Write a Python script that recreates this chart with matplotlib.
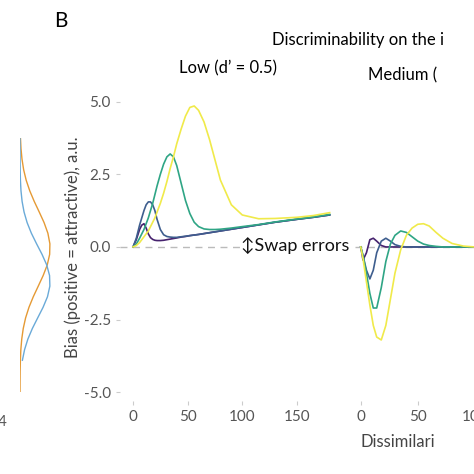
import matplotlib
matplotlib.use("Agg")
import matplotlib.pyplot as plt

plt.rcParams['font.family'] = ['Lato', 'DejaVu Sans']

# Panel "Low (d' = 0.5)": bias curves (x = dissimilarity, y = bias)
low_x = [0, 3, 6, 8, 10, 12, 14, 16, 18, 20, 22, 25, 28, 31, 34, 37, 40, 44, 48, 52, 56, 60,
         65, 70, 75, 80, 90, 100, 115, 130, 150, 165, 180]
low_purple = [0, .25, .6, .75, .8, .65, .45, .32, .26, .23, .22, .22, .23, .25, .27, .29, .31, .34,
              .36, .39, .41, .43, .46, .49, .52, .55, .61, .67, .76, .85, .95, 1.02, 1.1]
low_blue = [0, .3, .75, 1.0, 1.25, 1.45, 1.55, 1.55, 1.45, 1.25, .95, .6, .42, .36, .34, .33, .33,
            .35, .37, .39, .41, .43, .46, .49, .52, .55, .61, .67, .76, .85, .95, 1.02, 1.1]
low_green = [0, .1, .3, .45, .6, .8, 1.0, 1.25, 1.5, 1.8, 2.1, 2.5, 2.85, 3.1, 3.2, 3.1, 2.8, 2.2,
             1.6, 1.15, .85, .7, .62, .6, .6, .61, .65, .7, .77, .86, .96, 1.03, 1.12]
low_yellow = [0, .05, .15, .25, .35, .45, .55, .7, .85, 1.0, 1.2, 1.5, 1.85, 2.25, 2.7, 3.1, 3.55,
              4.05, 4.5, 4.8, 4.85, 4.7, 4.3, 3.7, 3.0, 2.3, 1.45, 1.1, .97, .98, 1.02, 1.08, 1.18]

# Panel "Medium": bias curves
med_x = [0, 2, 5, 8, 11, 14, 18, 22, 26, 30, 35, 40, 45, 50, 55, 60, 66, 72, 80, 90, 100, 110]
med_purple = [0, -0.45, -0.2, 0.25, 0.3, 0.2, 0.05, 0.0, 0, 0, 0, 0, 0, 0, 0, 0, 0, 0, 0, 0, 0, 0]
med_blue = [0, -0.3, -0.8, -1.1, -0.8, -0.2, 0.2, 0.3, 0.2, 0.08, 0.02, 0, 0, 0, 0, 0, 0, 0, 0, 0, 0, 0]
med_green = [0, -0.3, -0.9, -1.6, -2.1, -2.1, -1.4, -0.5, 0.1, 0.4, 0.55, 0.5, 0.35, 0.2, 0.1, 0.05, 0.02, 0, 0, 0, 0, 0]
med_yellow = [0, -0.4, -1.2, -2.0, -2.7, -3.1, -3.2, -2.7, -1.8, -0.9, -0.1, 0.4, 0.65, 0.78, 0.8, 0.72, 0.5, 0.3, 0.12, 0.03, 0, 0]

# Left inset: two stimulus distributions (density along vertical position)
dist_pos = [i * 0.5 for i in range(25)]
dist_orange = [.015, .033, .066, .121, .206, .325, .474, .640, .801, .927, .994, .986, .906,
               .770, .607, .442, .298, .186, .108, .058, .028, .013, .005, .002, .001]
dist_blue = [0, .001, .002, .006, .014, .033, .070, .135, .237, .378, .551, .733, .889,
             .983, .993, .914, .767, .588, .411, .262, .152, .080]

colors = ["#46226e", "#3e5e8e", "#2fa585", "#f0ea4a"]
tick_gray = "#555555"

fig = plt.figure(figsize=(4.74, 4.74), dpi=100)


def style(ax, xlim):
    for s in ax.spines.values():
        s.set_visible(False)
    ax.set_xlim(*xlim)
    ax.set_ylim(-5.3, 5.3)
    ax.axhline(0, color="#bbbbbb", linestyle=(0, (5, 4)), linewidth=1, zorder=0)
    ax.tick_params(colors="#cccccc", labelcolor=tick_gray, labelsize=11, length=3)


ax1 = fig.add_axes([0.253, 0.154, 0.454, 0.65])
style(ax1, (-12, 185))
for c, y in zip(colors, [low_purple, low_blue, low_green, low_yellow]):
    ax1.plot(low_x, y, color=c, linewidth=1.2)
ax1.set_yticks([-5, -2.5, 0, 2.5, 5])
ax1.set_yticklabels(["-5.0", "-2.5", "0.0", "2.5", "5.0"])
ax1.set_xticks([0, 50, 100, 150])
ax1.set_ylabel("Bias (positive = attractive), a.u.", fontsize=12, color="#444444", labelpad=2)
ax1.text(99, 0.0, "\u2195Swap errors", fontsize=13, ha="left", va="center", color="#111111",
         bbox=dict(facecolor="white", edgecolor="none", pad=0.5))
ax1.set_title("Low (d\u2019 = 0.5)", fontsize=12, pad=14)

ax2 = fig.add_axes([0.749, 0.154, 0.26, 0.65])
style(ax2, (-5, 103))
for c, y in zip(colors, [med_purple, med_blue, med_green, med_yellow]):
    ax2.plot(med_x, y, color=c, linewidth=1.2)
ax2.set_yticks([])
ax2.set_xticks([0, 50, 100])
ax2.set_xticklabels(["0", "50", "100"])

ax3 = fig.add_axes([20 / 474, 0.173, 40 / 474, 0.536])
ax3.plot(dist_orange, dist_pos, color="#e59a35", linewidth=1)
ax3.plot(dist_blue, dist_pos[:len(dist_blue)], color="#6aaad8", linewidth=1)
ax3.set_ylim(12, 0)
ax3.set_xlim(0, 1.33)
ax3.axis("off")

fig.text(0.115, 0.955, "B", fontsize=15, ha="left", va="center")
fig.text(0.573, 0.915, "Discriminability on the i", fontsize=12, ha="left", va="center")
fig.text(0.776, 0.842, "Medium (", fontsize=12, ha="left", va="center")
fig.text(0.76, 0.068, "Dissimilari", fontsize=12, ha="left", va="center", color="#444444")
fig.text(-0.004, 0.11, "4", fontsize=11, ha="left", va="center", color=tick_gray)

fig.savefig("out.png", dpi=100)
